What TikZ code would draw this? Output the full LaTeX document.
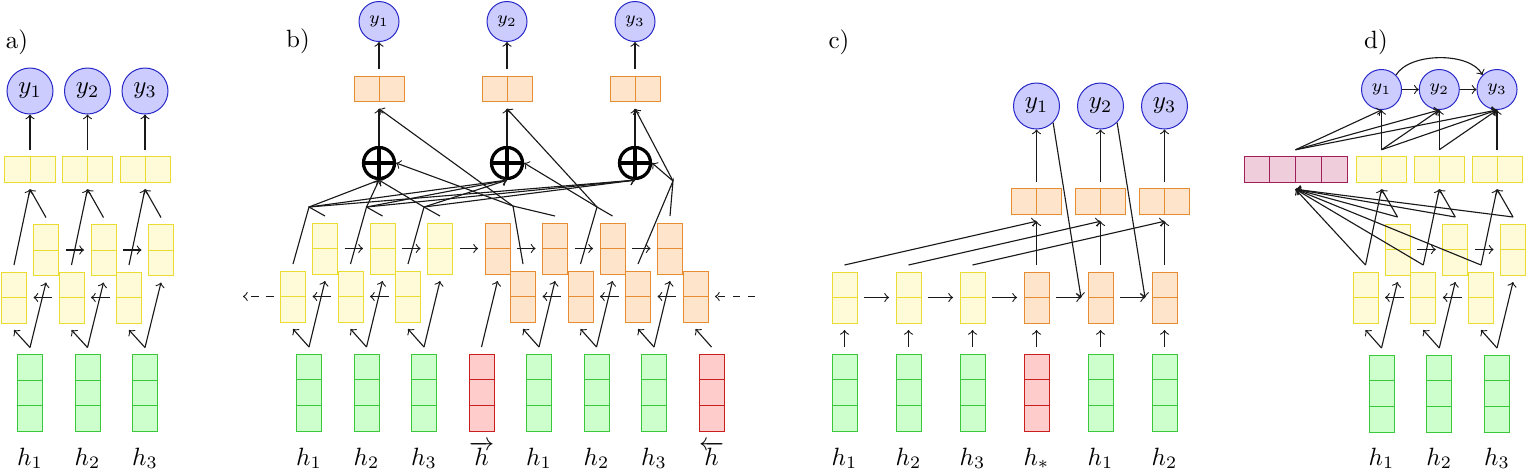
\documentclass[tikz,border=0pt]{standalone}
\usetikzlibrary{arrows}
\definecolor{dyel}{RGB}{235,220,50}
\definecolor{fyel}{RGB}{255,250,215}
\definecolor{dor}{RGB}{230,140,50}
\definecolor{for}{RGB}{255,228,204}
\definecolor{dgr}{RGB}{60,200,60}
\definecolor{fgr}{RGB}{204,255,204}
\definecolor{drd}{RGB}{200,30,30}
\definecolor{frd}{RGB}{255,204,204}
\definecolor{dpk}{RGB}{160,30,90}
\definecolor{fpk}{RGB}{240,205,218}
\definecolor{dbl}{RGB}{40,40,200}
\definecolor{fbl}{RGB}{204,204,255}
\tikzset{
  bx/.style={rectangle, inner sep=0pt, outer sep=2.8pt, line width=0.4pt, draw=d#1, fill=f#1},
  htwo/.style={bx=#1, minimum width=20pt, minimum height=10.2pt,
    path picture={\draw[draw=d#1, line width=0.4pt] (path picture bounding box.north) -- (path picture bounding box.south);}},
  vtwo/.style={bx=#1, minimum width=10pt, minimum height=20.4pt,
    path picture={\draw[draw=d#1, line width=0.4pt] (path picture bounding box.west) -- (path picture bounding box.east);}},
  vthree/.style={bx=#1, minimum width=10pt, minimum height=30.8pt,
    path picture={\draw[draw=d#1, line width=0.4pt]
      ([yshift=5.13pt]path picture bounding box.west) -- ([yshift=5.13pt]path picture bounding box.east)
      ([yshift=-5.13pt]path picture bounding box.west) -- ([yshift=-5.13pt]path picture bounding box.east);}},
  hfour/.style={bx=#1, minimum width=41.2pt, minimum height=10.2pt,
    path picture={\draw[draw=d#1, line width=0.4pt]
      ([xshift=-10.3pt]path picture bounding box.north) -- ([xshift=-10.3pt]path picture bounding box.south)
      (path picture bounding box.north) -- (path picture bounding box.south)
      ([xshift=10.3pt]path picture bounding box.north) -- ([xshift=10.3pt]path picture bounding box.south);}},
  bigc/.style={circle, draw=dbl, fill=fbl, line width=0.4pt, minimum size=18.4pt, inner sep=0pt},
  smc/.style={bigc, minimum size=16pt, font=\scriptsize},
  opl/.style={circle, draw, line width=1.3pt, minimum size=12.4pt, inner sep=0pt,
    path picture={\draw[line width=1.3pt] (path picture bounding box.north) -- (path picture bounding box.south)
      (path picture bounding box.west) -- (path picture bounding box.east);}},
  arr/.style={->, line width=0.45pt, black!90},
  ln/.style={line width=0.45pt, black!90},
  lab/.style={inner sep=0pt, anchor=base},
  plab/.style={inner sep=0pt}
}
\begin{document}
\begin{tikzpicture}[x=0.4pt,y=-0.4pt]
\useasboundingbox (0,0) rectangle (1530,469);

% ---------------- panel a
\node[plab] (la) at (17,42) {a)};
\foreach \i/\x in {1/30,2/87.5,3/145}{
  \node[vthree=gr] (ag\i) at (\x,393) {};
  \node[vtwo=yel] (af\i) at (\x+16,250) {};
  \node[vtwo=yel] (ab\i) at (\x-16,297.5) {};
  \node[htwo=yel] (at\i) at (\x,169.5) {};
  \node[bigc] (ay\i) at (\x,91) {$y_{\i}$};
  \node[lab] (ah\i) at (\x,465) {$h_{\i}$};
  \draw[arr] (ag\i.north) -- (ab\i.south);
  \draw[arr] (ag\i.north) -- (af\i.south);
  \draw[arr] (af\i.north) -- (at\i.south);
  \draw[arr] (ab\i.north) -- (at\i.south);
  \draw[arr] (at\i.north) -- (ay\i.south);
}
\draw[arr] (af1.east) -- (af2.west);
\draw[arr] (af2.east) -- (af3.west);
\draw[arr] (ab2.west) -- (ab1.east);
\draw[arr] (ab3.west) -- (ab2.east);

% ---------------- panel b
\node[plab] (lb) at (298,41) {b)};
\foreach \i/\cl/\t in {1/gr/h_1, 2/gr/h_2, 3/gr/h_3, 4/rd/\overrightarrow{h}, 5/gr/h_1, 6/gr/h_2, 7/gr/h_3, 8/rd/\overleftarrow{h}}{
  \node[vthree=\cl] (bg\i) at ({309+57.5*(\i-1)},392.5) {};
  \node[lab] (bh\i) at ({309+57.5*(\i-1)},465) {$\t$};
}
\foreach \i/\cl in {1/yel,2/yel,3/yel,4/or,5/or,6/or,7/or}{
  \node[vtwo=\cl] (bu\i) at ({325+57.5*(\i-1)},248.5) {};
}
\foreach \i/\cl in {1/yel,2/yel,3/yel,5/or,6/or,7/or,8/or}{
  \node[vtwo=\cl] (bl\i) at ({293+57.5*(\i-1)},296.5) {};
}
\foreach \i in {1,2,3,5,6,7}{
  \draw[arr] (bg\i.north) -- (bl\i.south);
  \draw[arr] (bg\i.north) -- (bu\i.south);
}
\draw[arr] (bg4.north) -- (bu4.south);
\draw[arr] (bg8.north) -- (bl8.south);
\foreach \i/\j in {1/2,2/3,3/4,4/5,5/6,6/7}{ \draw[arr] (bu\i.east) -- (bu\j.west); }
\foreach \i/\j in {2/1,3/2,6/5,7/6,8/7}{ \draw[arr] (bl\i.west) -- (bl\j.east); }
\coordinate (bdl) at (243,296.5);
\coordinate (bdr) at (755,296.5);
\draw[arr,dashed] (bl1.west) -- (bdl);
\draw[arr,dashed] (bdr) -- (bl8.east);
\foreach \i in {1,2,3}{
  \node[opl] (bo\i) at ({379+128*(\i-1)},163) {};
  \node[htwo=or] (bx\i) at ({379+128*(\i-1)},89) {};
  \node[smc] (by\i) at ({379+128*(\i-1)},21.5) {$y_{\i}$};
  \draw[arr] (bo\i.north) -- (bx\i.south);
  \draw[arr] (bx\i.north) -- (by\i.south);
}
\foreach \i in {1,2,3}{ \coordinate (bf\i) at ({309+57.5*(\i-1)},207); }
\foreach \i in {1,2,3}{
  \draw[ln] (bl\i.north) -- (bf\i) -- (bu\i.north);
  \foreach \j in {1,2,3}{ \draw[arr] (bf\i) -- (bo\j.south); }
}
\coordinate (bd1) at (513,206);
\coordinate (bd2) at (597,207);
\coordinate (bd3) at (673,181);
\foreach \i/\k in {1/5,2/6,3/7}{
  \draw[ln] (bl\k.north) -- (bd\i) -- (bu\k.north);
  \draw[arr] (bd\i) -- (bo\i.east);
  \draw[arr] (bd\i) -- (bx\i.south);
}

% ---------------- panel c
\node[plab] (lc) at (839,42) {c)};
\foreach \i/\cl/\cm/\t in {1/gr/yel/h_1, 2/gr/yel/h_2, 3/gr/yel/h_3, 4/rd/or/h_*, 5/gr/or/h_1, 6/gr/or/h_2}{
  \node[vthree=\cl] (cg\i) at ({844.5+64*(\i-1)},392.5) {};
  \node[vtwo=\cm] (cb\i) at ({844.5+64*(\i-1)},297.5) {};
  \node[lab] (ch\i) at ({844.5+64*(\i-1)},465) {$\t$};
  \draw[arr] (cg\i.north) -- (cb\i.south);
}
\foreach \i in {1,2,3}{
  \node[htwo=or] (cx\i) at ({1036.5+64*(\i-1)},201.5) {};
  \node[bigc] (cy\i) at ({1036.5+64*(\i-1)},106) {$y_{\i}$};
  \draw[arr] (cx\i.north) -- (cy\i.south);
}
\foreach \i/\j in {1/2,2/3,3/4,4/5,5/6}{ \draw[arr] (cb\i.east) -- (cb\j.west); }
\foreach \i/\j in {1/1,2/2,3/3,4/1,5/2,6/3}{ \draw[arr] (cb\i.north) -- (cx\j.south); }
\draw[arr] (cy1.south east) -- (cb5.west);
\draw[arr] (cy2.south east) -- (cb6.west);

% ---------------- panel d
\node[plab] (ld) at (1376,42) {d)};
\node[hfour=pk] (dp) at (1295.5,169.5) {};
\foreach \i/\x in {1/1381.5,2/1439.25,3/1497}{
  \node[vthree=gr] (dg\i) at (\x,393.5) {};
  \node[vtwo=yel] (df\i) at (\x+16,249.5) {};
  \node[vtwo=yel] (db\i) at (\x-16,297.5) {};
  \node[htwo=yel] (dt\i) at (\x,169.5) {};
  \node[smc] (dy\i) at (\x,89.5) {$y_{\i}$};
  \node[lab] (dh\i) at (\x,465) {$h_{\i}$};
  \draw[arr] (dg\i.north) -- (db\i.south);
  \draw[arr] (dg\i.north) -- (df\i.south);
  \draw[arr] (df\i.north) -- (dt\i.south);
  \draw[arr] (db\i.north) -- (dt\i.south);
  \draw[arr] (df\i.north) -- (dp.south);
  \draw[arr] (db\i.north) -- (dp.south);
  \draw[arr] (dp.north) -- (dy\i.south);
}
\draw[arr] (df1.east) -- (df2.west);
\draw[arr] (df2.east) -- (df3.west);
\draw[arr] (db2.west) -- (db1.east);
\draw[arr] (db3.west) -- (db2.east);
\foreach \i/\j in {1/1,1/2,1/3,2/2,2/3,3/3}{ \draw[arr] (dt\i.north) -- (dy\j.south); }
\draw[arr] (dy1.east) -- (dy2.west);
\draw[arr] (dy2.east) -- (dy3.west);
\draw[arr] (dy1.north east) .. controls (1410,52) and (1470,52) .. (dy3.north west);
\end{tikzpicture}
\end{document}
